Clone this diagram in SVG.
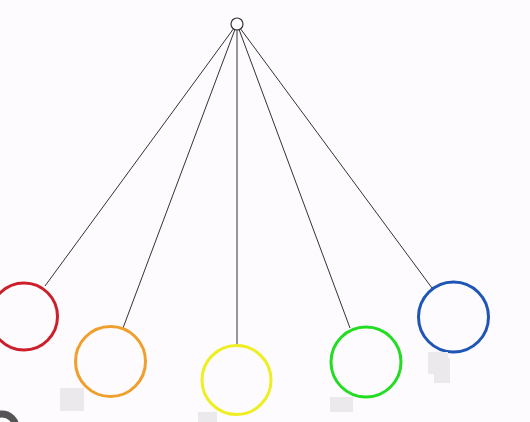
<svg xmlns="http://www.w3.org/2000/svg" width="530" height="422" viewBox="0 0 530 422">
<style>
.str{stroke:#333;stroke-width:1;fill:none}
.bob{fill:none;stroke-width:3}
.art{fill:#ebe9eb}
</style>
<rect width="530" height="422" fill="#fdfbfd"/>
<g id="connectors">
<line class="str" x1="237" y1="24" x2="45" y2="286"/>
<line class="str" x1="237" y1="24" x2="123" y2="328"/>
<line class="str" x1="237" y1="24" x2="237" y2="345"/>
<line class="str" x1="237" y1="24" x2="350" y2="328"/>
<line class="str" x1="237" y1="24" x2="432" y2="288"/>
</g>
<g id="pivot"><circle cx="237" cy="24" r="6" fill="#fff" stroke="#333" stroke-width="1.2"/></g>
<g id="bob-red"><circle class="bob" cx="24" cy="316.5" r="33.5" stroke="#cc1f2a"/></g>
<g id="bob-orange"><circle class="bob" cx="110.5" cy="361.5" r="35" stroke="#efa02c"/></g>
<g id="bob-yellow"><circle class="bob" cx="236.5" cy="380" r="34.5" stroke="#eeee22"/></g>
<g id="bob-green"><circle class="bob" cx="366" cy="362" r="35" stroke="#22dd22"/></g>
<g id="bob-blue"><circle class="bob" cx="453.5" cy="317" r="35" stroke="#1f55b5"/></g>
<rect class="art" x="60" y="388" width="24" height="23"/>
<rect class="art" x="198" y="412" width="19" height="10"/>
<rect class="art" x="330" y="397" width="23" height="15"/>
<rect class="art" x="428" y="352" width="20" height="22"/>
<rect class="art" x="434" y="358" width="16" height="25"/>
<circle cx="2" cy="428" r="14" fill="none" stroke="#555" stroke-width="7"/>
</svg>
